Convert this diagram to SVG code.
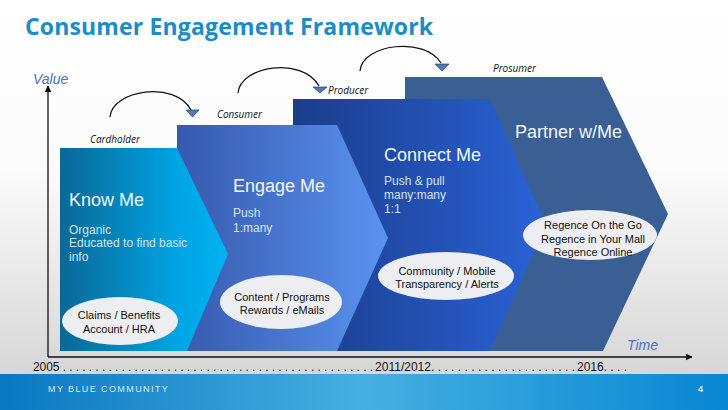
<svg xmlns="http://www.w3.org/2000/svg" width="728" height="410" viewBox="0 0 728 410">
<defs>
<linearGradient id="bg" x1="0" y1="0" x2="0" y2="1">
<stop offset="0" stop-color="#ffffff"/>
<stop offset="0.45" stop-color="#fbfbfb"/>
<stop offset="1" stop-color="#d6d6d6"/>
</linearGradient>
<linearGradient id="foot" x1="0" y1="0" x2="1" y2="0">
<stop offset="0" stop-color="#0a78c2"/>
<stop offset="0.5" stop-color="#45afe0"/>
<stop offset="1" stop-color="#0887d4"/>
</linearGradient>
<linearGradient id="gKnow" x1="0" y1="0" x2="1" y2="0">
<stop offset="0" stop-color="#0a6896"/>
<stop offset="0.7" stop-color="#00a4e4"/>
<stop offset="1" stop-color="#00b2f2"/>
</linearGradient>
<linearGradient id="gEngage" x1="0" y1="0" x2="1" y2="0">
<stop offset="0" stop-color="#3659ad"/>
<stop offset="1" stop-color="#5a93f0"/>
</linearGradient>
<linearGradient id="gConnect" x1="0" y1="0" x2="1" y2="0">
<stop offset="0" stop-color="#1b3d8b"/>
<stop offset="1" stop-color="#2a62d6"/>
</linearGradient>
<marker id="ax" viewBox="0 0 10 10" refX="9" refY="5" markerWidth="7" markerHeight="7" markerUnits="userSpaceOnUse" orient="auto">
<path d="M0,0 L10,5 L0,10 z" fill="#111"/>
</marker>
</defs>
<style>
.lbl{font-family:"Open Sans","Liberation Sans",sans-serif;font-style:italic;font-size:10px;fill:#111}
.axl{font-family:"Liberation Sans",Arial,sans-serif;font-style:italic;font-size:14px;fill:#4a72ba}
.h{font-family:"Liberation Sans",Arial,sans-serif;font-size:18px;fill:#f2f6fc}
.s{font-family:"Liberation Sans",Arial,sans-serif;font-size:12px;fill:#d2e4f4}
.ell{fill:#eceef1}
.et{font-family:"Liberation Sans",Arial,sans-serif;font-size:11px;fill:#111;text-anchor:middle}
.arc{fill:none;stroke:#111;stroke-width:1.2}
.tip{fill:#4a7cc2;stroke:#223;stroke-width:0.6}
.tl{font-family:"Liberation Sans",Arial,sans-serif;font-size:12px;fill:#111}
</style>
<rect x="0" y="0" width="728" height="376" fill="url(#bg)"/>
<rect x="0" y="374" width="728" height="36" fill="url(#foot)"/>
<text x="25" y="35" font-family="'Open Sans','Liberation Sans',sans-serif" font-weight="bold" font-size="23" fill="#1a8cc8" textLength="408">Consumer Engagement Framework</text>

<g id="stage-partner">
<polygon points="405,77 602,77 668,214 603,351 405,351" fill="#395f95"/>
<text class="h" x="515" y="138">Partner w/Me</text>
</g>
<g id="stage-connect">
<polygon points="293,99 490,99 546,225 490,351 293,351" fill="url(#gConnect)"/>
<text class="h" x="384" y="161">Connect Me</text>
<text class="s" x="384" y="185">Push &amp; pull</text>
<text class="s" x="384" y="199">many:many</text>
<text class="s" x="384" y="213">1:1</text>
</g>
<g id="stage-engage">
<polygon points="177,125 337,125 388,238 337,351 177,351" fill="url(#gEngage)"/>
<text class="h" x="233" y="192">Engage Me</text>
<text class="s" x="233" y="217">Push</text>
<text class="s" x="233" y="232">1:many</text>
</g>
<g id="stage-know">
<polygon points="60,148 177,148 228,254 187,351 60,351" fill="url(#gKnow)"/>
<text class="h" x="69" y="206">Know Me</text>
<text class="s" x="69" y="234">Organic</text>
<text class="s" x="69" y="247">Educated to find basic</text>
<text class="s" x="69" y="261">info</text>
</g>

<g id="item-claims">
<ellipse class="ell" cx="120" cy="321" rx="58" ry="24"/>
<text class="et" x="119" y="319">Claims / Benefits</text>
<text class="et" x="119" y="333">Account / HRA</text>
</g>
<g id="item-content">
<ellipse class="ell" cx="281" cy="302" rx="61" ry="27"/>
<text class="et" x="282" y="301">Content / Programs</text>
<text class="et" x="282" y="314">Rewards / eMails</text>
</g>
<g id="item-community">
<ellipse class="ell" cx="446" cy="276" rx="68" ry="24"/>
<text class="et" x="447" y="275">Community / Mobile</text>
<text class="et" x="447" y="288">Transparency / Alerts</text>
</g>
<g id="item-regence">
<ellipse class="ell" cx="590" cy="235" rx="67" ry="25"/>
<text class="et" x="593" y="229">Regence On the Go</text>
<text class="et" x="593" y="243">Regence in Your Mall</text>
<text class="et" x="593" y="256">Regence Online</text>
</g>

<g id="stage-labels">
<text class="lbl" x="90" y="143">Cardholder</text>
<text class="lbl" x="217" y="118">Consumer</text>
<text class="lbl" x="328" y="94">Producer</text>
<text class="lbl" x="493" y="72">Prosumer</text>
</g>

<g id="connectors">
<path class="arc" d="M110,117 C112,90 175,80 191,110"/>
<polygon class="tip" points="186,110 199,110 192.5,117"/>
<path class="arc" d="M238,93 C240,66 302,56 319,86"/>
<polygon class="tip" points="313,87 327,87 320,93"/>
<path class="arc" d="M360,71 C362,44 425,36 441,63"/>
<polygon class="tip" points="435,64 449,64 442,71"/>
</g>

<g id="axes">
<line x1="48" y1="357" x2="48" y2="86" stroke="#111" stroke-width="1.3" marker-end="url(#ax)"/>
<line x1="48" y1="357" x2="692" y2="357" stroke="#111" stroke-width="1.3" marker-end="url(#ax)"/>
<text class="axl" x="33" y="84">Value</text>
<text class="axl" x="627" y="350">Time</text>
</g>

<g id="timeline">
<text class="tl" x="33" y="371" textLength="340">2005 . . . . . . . . . . . . . . . . . . . . . . . . . . . . . . . . . . . . . . . . . . . . . . . .</text>
<text class="tl" x="375" y="371" textLength="200">2011/2012. . . . . . . . . . . . . . . . . . . . . .</text>
<text class="tl" x="577" y="371" textLength="50">2016. . . .</text>
</g>

<g id="footer">
<text x="48" y="392" font-family="'Liberation Sans',Arial,sans-serif" font-size="9" letter-spacing="1.4" fill="#d8ecf8">MY BLUE COMMUNITY</text>
<text x="698" y="392" font-family="'Liberation Sans',Arial,sans-serif" font-size="9" font-weight="bold" fill="#e2f1fc">4</text>
</g>
</svg>
